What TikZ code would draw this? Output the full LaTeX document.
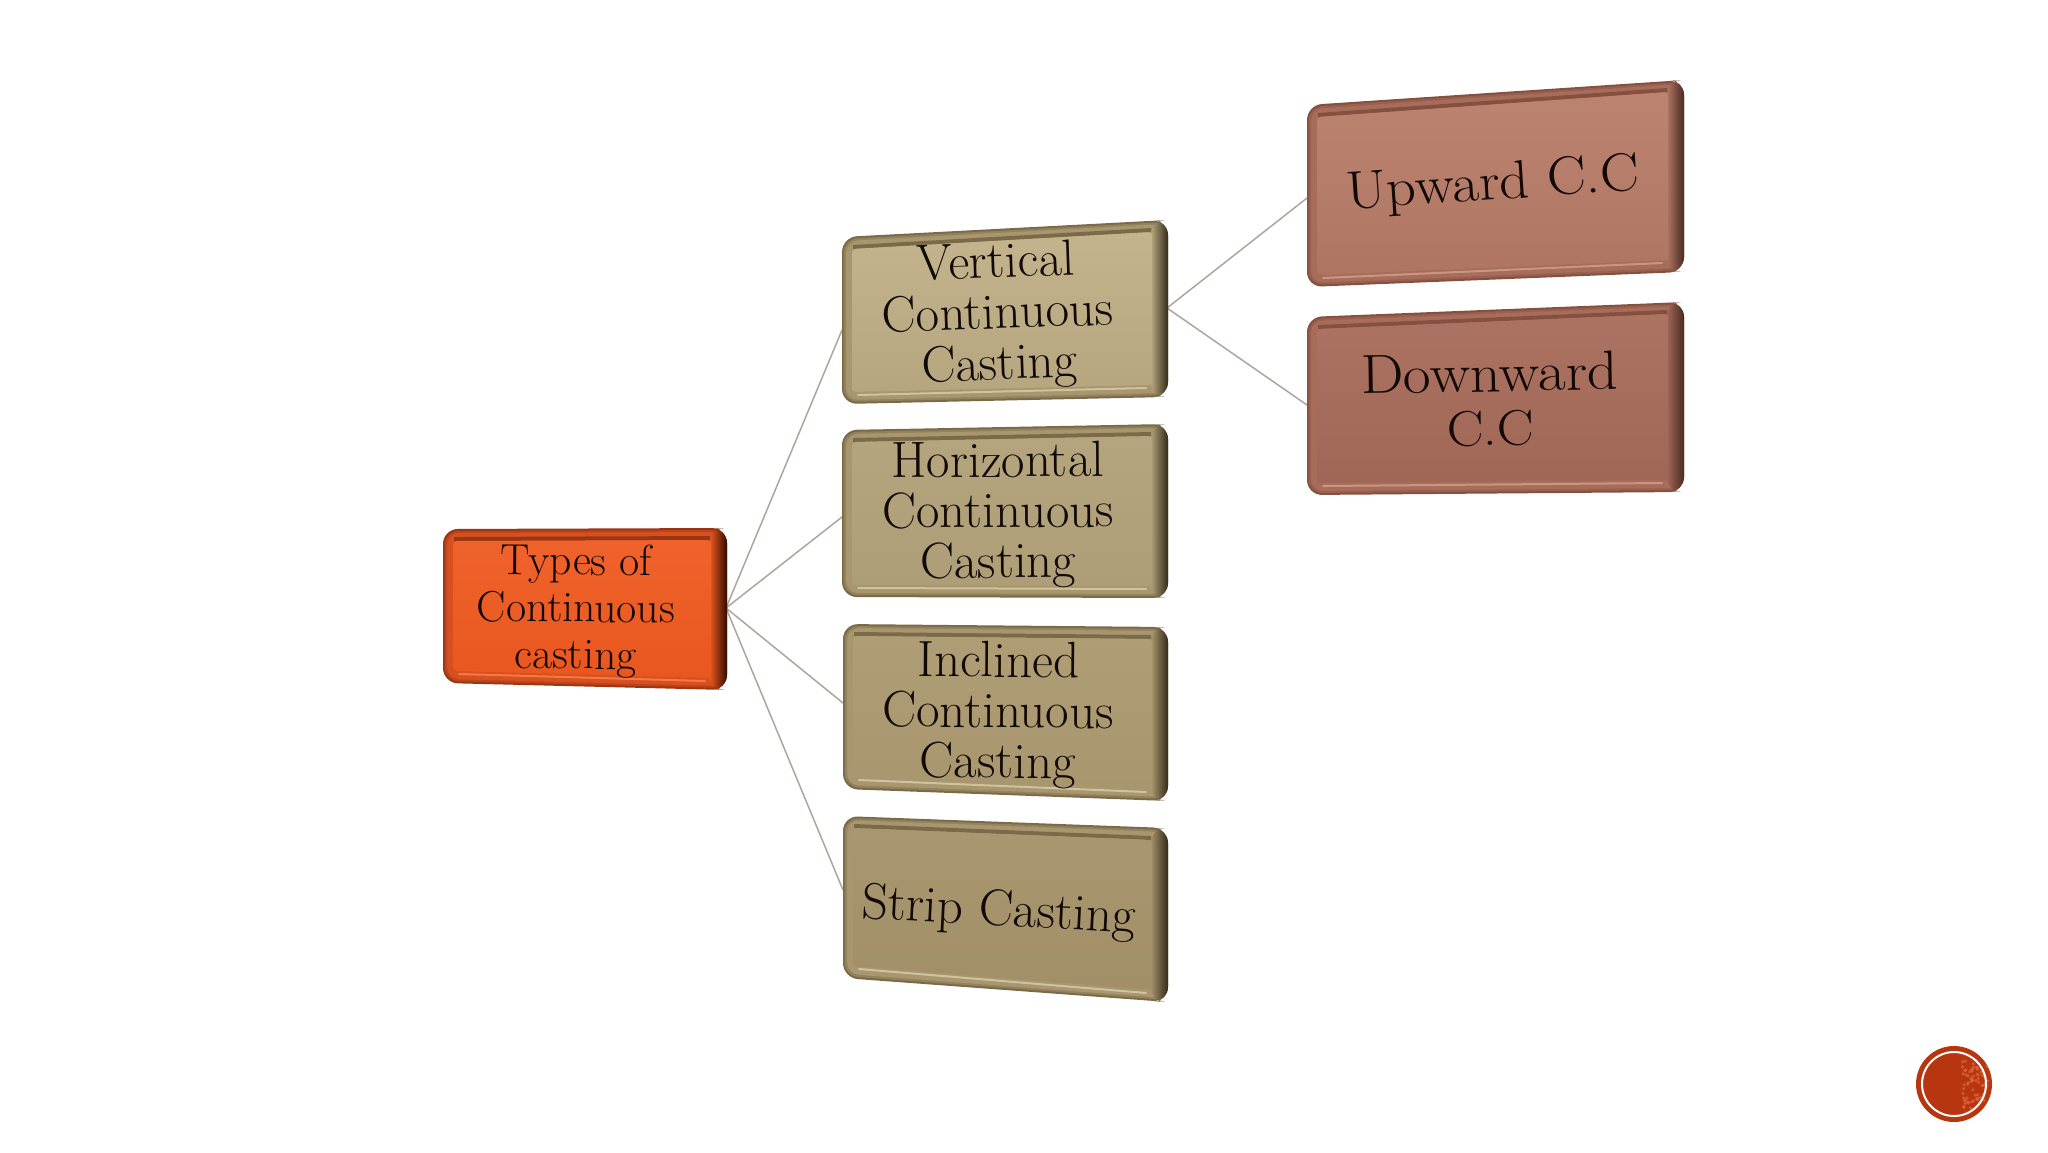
\documentclass[tikz,border=0pt]{standalone}
\usepackage{fontspec}
\usepackage{xcolor}
\definecolor{tandark}{HTML}{352B1A}
\definecolor{tanrim}{HTML}{A8966E}
\definecolor{tanmid}{HTML}{7A6A48}
\definecolor{tanlight}{HTML}{CFC39E}
\definecolor{redark}{HTML}{320C01}
\definecolor{rerim}{HTML}{D8501F}
\definecolor{remid}{HTML}{9A3614}
\definecolor{relight}{HTML}{F47A45}
\definecolor{brdark}{HTML}{4A2A20}
\definecolor{brrim}{HTML}{A86D5A}
\definecolor{brmid}{HTML}{855040}
\definecolor{brlight}{HTML}{C99684}
\definecolor{inkc}{HTML}{120804}
\definecolor{linkc}{HTML}{ABA79C}
\definecolor{dotface}{HTML}{B8360F}
\definecolor{dotspeck}{HTML}{DE6A42}
\tikzset{
  lbl/.style={align=center,text=inkc,inner sep=0pt},
  link/.style={draw=linkc,line width=.75pt},
}
\newcommand{\heavy}{\addfontfeature{FakeBold=0.9}}
\newcommand{\bevelbox}[9]{%
  % x1, yTL, yTR, x2, yBR, yBL, face top, face bottom, family
  \definecolor{facetop}{HTML}{#7}%
  \definecolor{facebot}{HTML}{#8}%
  \fill[#9mid,rounded corners=7.5pt] (#1,#2) -- (#4,#3) -- (#4,#5) -- (#1,#6) -- cycle;
  \fill[#9rim!55!#9mid,rounded corners=7pt] ({#1+1.5},{#2+2}) -- ({#4-2},{#3+2}) -- ({#4-2},{#5-2}) -- ({#1+1.5},{#6-2}) -- cycle;
  \fill[#9rim,rounded corners=6pt] ({#1+4},{#2+4}) -- ({#4-4},{#3+4}) -- ({#4-4},{#5-4}) -- ({#1+4},{#6-4}) -- cycle;
  \shade[left color=facebot,middle color=facebot!50!#9dark,right color=#9dark,rounded corners=7pt] ({#4-17},{#3}) -- ({#4},{#3+1}) -- ({#4},{#5-1}) -- ({#4-17},{#5}) -- cycle;
  \fill[#9mid] ({#1+11},{#2+8}) -- ({#4-17},{#3+8}) -- ({#4-17},{#3+12}) -- ({#1+11},{#2+12}) -- cycle;
  \shade[top color=facetop,bottom color=facebot,rounded corners=2pt] ({#1+10},{#2+12}) -- ({#4-16},{#3+12}) -- ({#4-16},{#5-12}) -- ({#1+10},{#6-12}) -- cycle;
  \draw[#9light,line width=1pt,line cap=round] ({#1+16},{#6-9}) -- ({#4-22},{#5-9});
}
\begin{document}
\begin{tikzpicture}[x=.5pt,y=-.5pt]
\useasboundingbox (0,0) rectangle (2048,1152);
\fill[white] (0,0) rectangle (2048,1152);
% connection points
\coordinate (types-e) at (726,608);
\coordinate (vert-w) at (842,330);
\coordinate (vert-e) at (1167,308);
\coordinate (hori-w) at (842,517);
\coordinate (incl-w) at (843,703);
\coordinate (strip-w) at (843,890);
\coordinate (up-w) at (1307,198);
\coordinate (down-w) at (1307,405);
% connectors
\draw[link] (types-e) -- (vert-w);
\draw[link] (types-e) -- (hori-w);
\draw[link] (types-e) -- (incl-w);
\draw[link] (types-e) -- (strip-w);
\draw[link] (vert-e) -- (up-w);
\draw[link] (vert-e) -- (down-w);
% boxes
\bevelbox{443}{529}{528}{727}{690}{683}{F0622C}{E8571F}{re}
\bevelbox{842}{237}{220}{1168}{397}{404}{C4B48E}{B5A67F}{tan}
\bevelbox{842}{430}{424}{1168}{598}{597}{B5A57E}{AE9E77}{tan}
\bevelbox{843}{624}{627}{1168}{801}{789}{AE9D75}{A8976E}{tan}
\bevelbox{843}{816}{828}{1168}{1002}{978}{A89770}{A28F68}{tan}
\bevelbox{1307}{105}{80}{1684}{272}{287}{BC8470}{AE7563}{br}
\bevelbox{1307}{317}{302}{1684}{492}{495}{AC7362}{A06757}{br}
% labels
\node[lbl,rotate=-.5,font=\fontsize{21.8}{23.5}\selectfont\heavy] (types) at (576,611) {Types of\\Continuous\\casting};
\node[lbl,rotate=2,font=\fontsize{25.5}{25.5}\selectfont\heavy] (vert) at (998,316) {Vertical\\Continuous\\Casting};
\node[lbl,rotate=.3,font=\fontsize{25.5}{25.2}\selectfont\heavy] (hori) at (998,515) {Horizontal\\Continuous\\Casting};
\node[lbl,rotate=-.4,font=\fontsize{25.5}{25.2}\selectfont\heavy] (incl) at (998,715) {Inclined\\Continuous\\Casting};
\node[lbl,rotate=-3,font=\fontsize{25.7}{26}\selectfont\heavy] (strip) at (999,913) {Strip Casting};
\node[lbl,rotate=3.8,xscale=1.08,font=\fontsize{27}{27}\selectfont\heavy] (up) at (1493,186) {Upward C.C};
\node[lbl,rotate=1,xscale=1.1,font=\fontsize{27.5}{27}\selectfont\heavy] (down) at (1490,400) {Downward\\{\fontsize{25}{27}\selectfont\heavy C.C}};
% page marker
\node[circle,minimum size=38pt,inner sep=0pt,fill=dotface] (marker) at (1954,1084) {};
\begin{scope}
\clip (marker.center) circle (38);
\pgfmathsetseed{42}
\foreach \i in {1,...,70}{
  \pgfmathsetmacro{\px}{1954+8+rnd*26}
  \pgfmathsetmacro{\py}{1084-24+rnd*48}
  \fill[dotspeck,opacity=.65] (\px,\py) circle (.9pt);
}
\end{scope}
\draw[white,line width=1pt] (marker.center) circle (32);
\end{tikzpicture}
\end{document}
